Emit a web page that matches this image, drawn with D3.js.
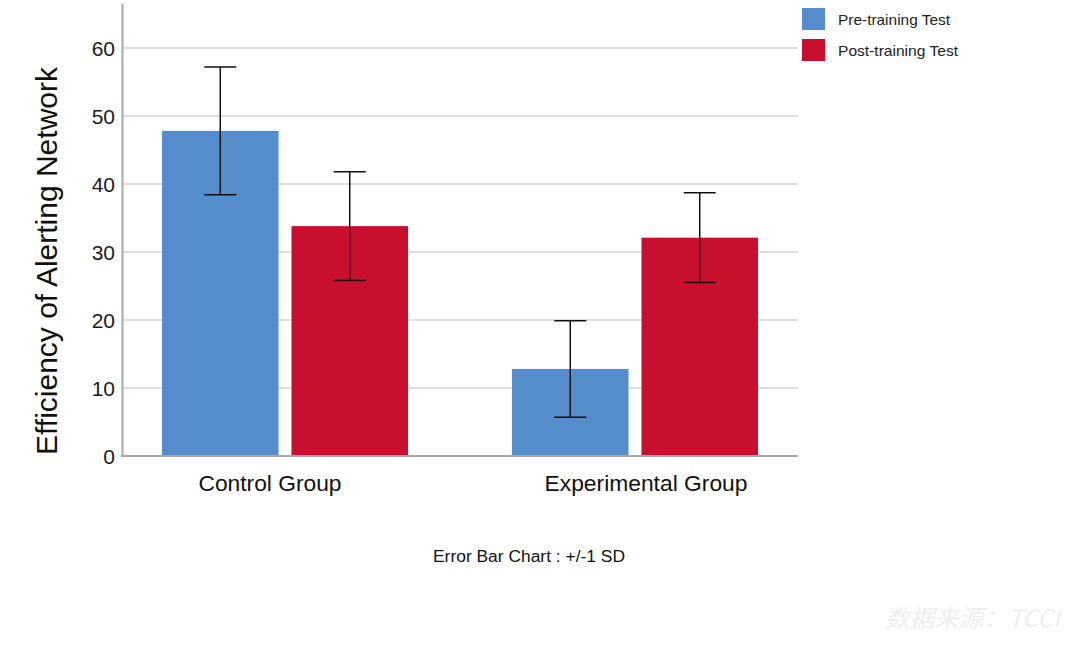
<!DOCTYPE html>
<html><head><meta charset="utf-8">
<script src="https://cdn.jsdelivr.net/npm/d3@7"></script>
<style>body{margin:0;background:#fff}svg{display:block;font-family:"Liberation Sans",Arial,sans-serif}</style>
</head><body><svg id="c" width="1080" height="648"></svg>
<script>
const groups = ["Control Group", "Experimental Group"];
const series = ["Pre-training Test", "Post-training Test"];
const colors = ["#548ccc", "#c8102e"];
const means = [[47.8, 33.8], [12.8, 32.1]];
const sds = [[9.4, 8.0], [7.1, 6.6]];
const yTicks = [0, 10, 20, 30, 40, 50, 60];

(function () {
const svg = d3.select("#c");
const pLeft = 122, pRight = 798, pTop = 3, pBottom = 456;
const y = d3.scaleLinear().domain([0, 66.6]).range([pBottom, pTop]);
const x0 = d3.scaleBand().domain(groups).range([110, 810]).padding(0);
const x1 = d3.scaleBand().domain(series).range([52, 298]).paddingInner(0.1).paddingOuter(0);

// gridlines
svg.append("g").selectAll("line").data(yTicks.filter(d => d > 0)).join("line")
  .attr("x1", pLeft).attr("x2", pRight).attr("y1", d => y(d)).attr("y2", d => y(d))
  .attr("stroke", "#d4d4d4").attr("stroke-width", 1.5);

// y axis
const ya = svg.append("g").attr("transform", `translate(${pLeft},0)`)
  .call(d3.axisLeft(y).tickValues(yTicks).tickSize(0).tickPadding(7));
ya.select(".domain").attr("stroke", "#a8a8a8").attr("stroke-width", 2);
ya.selectAll("text").attr("font-size", 21).attr("fill", "#1a1a1a")
  .attr("font-family", "Liberation Sans, Arial, sans-serif").attr("dy", "0.36em");

// bars
const g = svg.append("g").selectAll("g").data(groups).join("g")
  .attr("transform", d => `translate(${x0(d)},0)`);
g.selectAll("rect").data((d, i) => series.map((s, j) => ({s, j, v: means[i][j]}))).join("rect")
  .attr("x", d => x1(d.s)).attr("width", x1.bandwidth())
  .attr("y", d => y(d.v)).attr("height", d => y(0) - y(d.v))
  .attr("fill", d => colors[d.j]);

// error bars
const eb = g.selectAll("g.eb").data((d, i) => series.map((s, j) => ({s, m: means[i][j], sd: sds[i][j]}))).join("g").attr("class", "eb")
  .attr("stroke", "#111").attr("stroke-width", 1.5);
const cx = d => x1(d.s) + x1.bandwidth() / 2;
eb.append("line").attr("x1", cx).attr("x2", cx)
  .attr("y1", d => y(d.m + d.sd)).attr("y2", d => y(d.m - d.sd));
eb.append("line").attr("x1", d => cx(d) - 16).attr("x2", d => cx(d) + 16)
  .attr("y1", d => y(d.m + d.sd)).attr("y2", d => y(d.m + d.sd));
eb.append("line").attr("x1", d => cx(d) - 16).attr("x2", d => cx(d) + 16)
  .attr("y1", d => y(d.m - d.sd)).attr("y2", d => y(d.m - d.sd));

// x axis line
svg.append("line").attr("x1", pLeft - 1).attr("x2", pRight).attr("y1", pBottom).attr("y2", pBottom)
  .attr("stroke", "#a8a8a8").attr("stroke-width", 2);

// x labels
const labelShift = [-15, 11];
const labelLen = [143, 203];
svg.append("g").selectAll("text").data(groups).join("text")
  .attr("x", (d, i) => x0(d) + x0.bandwidth() / 2 + labelShift[i]).attr("y", 491)
  .attr("text-anchor", "middle").attr("font-size", 22).attr("fill", "#111")
  .attr("textLength", (d, i) => labelLen[i]).attr("lengthAdjust", "spacingAndGlyphs").text(d => d);

// y title
svg.append("text").attr("transform", "translate(57,261) rotate(-90)")
  .attr("text-anchor", "middle").attr("font-size", 29).attr("fill", "#111")
  .attr("textLength", 388).attr("lengthAdjust", "spacingAndGlyphs")
  .text("Efficiency of Alerting Network");

// caption
svg.append("text").attr("x", 529).attr("y", 562).attr("text-anchor", "middle")
  .attr("font-size", 16).attr("fill", "#111")
  .attr("textLength", 192).attr("lengthAdjust", "spacingAndGlyphs").text("Error Bar Chart : +/-1 SD");

// legend
const lg = svg.append("g").selectAll("g").data(series).join("g")
  .attr("transform", (d, i) => `translate(802,${8 + i * 31})`);
lg.append("rect").attr("width", 23).attr("height", 22).attr("fill", (d, i) => colors[i]);
lg.append("text").attr("x", 36).attr("y", 17).attr("font-size", 15).attr("fill", "#222")
  .attr("textLength", (d, i) => [112, 120][i]).attr("lengthAdjust", "spacingAndGlyphs").text(d => d);

// watermark
svg.append("text").attr("x", 1060).attr("y", 627).attr("text-anchor", "end")
  .attr("font-size", 24).attr("font-style", "italic").attr("fill", "#efefef")
  .attr("textLength", 175).attr("lengthAdjust", "spacingAndGlyphs")
  .attr("font-family", "Noto Sans CJK SC, sans-serif").text("数据来源：TCCI");
})();
</script></body></html>
